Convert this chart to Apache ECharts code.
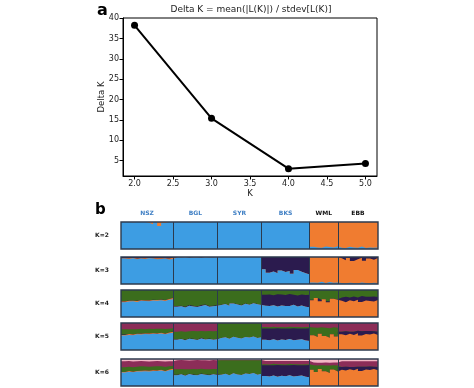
<!DOCTYPE html>
<html><head><meta charset="utf-8">
<script src="https://cdn.jsdelivr.net/npm/echarts@6/dist/echarts.min.js"></script>
<style>html,body{margin:0;padding:0;background:#fff}#c{width:474px;height:388px}</style>
</head><body><div id="c"></div>
<script>
// ---------- panel a ----------
const kValues = [2, 3, 4, 5];
const deltaK = [38.3, 15.4, 3.0, 4.3];
const xTicks = [2, 2.5, 3, 3.5, 4, 4.5, 5];
const yTicks = [5, 10, 15, 20, 25, 30, 35, 40];

// ---------- panel b ----------
const populations = ['NSZ', 'BGL', 'SYR', 'BKS', 'WML', 'EBB'];
const popSizes = [13, 11, 11, 12, 7, 10];
const popLabelColors = ['#3f7fc4', '#3f7fc4', '#3f7fc4', '#3f7fc4', '#111', '#111'];
const rowLabels = ['K=2', 'K=3', 'K=4', 'K=5', 'K=6'];
const clusterOrder = ['blue', 'orange', 'purple', 'green', 'maroon', 'pink'];
const clusterColors = { blue: '#3d9de3', orange: '#f07c30', purple: '#2b1b4e', green: '#3b6d1d', maroon: '#8c2d58', pink: '#f3b7c5' };

// K=2 (NSZ | BGL | SYR | BKS | WML | EBB)
const k2_blue = [100,100,99,100,100,100,97,92,100,85,96,100,99, 100,100,100,99,100,100,100,100,99,100,100, 100,100,100,100,100,100,100,100,100,100,100, 100,100,100,100,100,100,100,100,100,100,100,100, 8,6,5,9,7,6,10, 5,4,8,6,5,9,4,6,5,7];
const k2_orange = [0,0,1,0,0,0,3,8,0,15,4,0,1, 0,0,0,1,0,0,0,0,1,0,0, 0,0,0,0,0,0,0,0,0,0,0, 0,0,0,0,0,0,0,0,0,0,0,0, 92,94,95,91,93,94,90, 95,96,92,94,95,91,96,94,95,93];

// K=3
const k3_blue = [94,93,95,92,94,93,95,94,92,93,94,91,93, 98,98,99,97,98,98,97,99,98,98,99, 100,100,100,100,100,100,100,100,100,100,100, 55,42,46,40,50,44,48,38,52,45,40,35, 6,5,8,4,7,5,6, 4,3,5,4,3,6,4,3,5,4];
const k3_orange = [1,2,1,2,1,2,1,1,3,2,1,3,4, 0,0,0,0,0,0,0,0,0,0,0, 0,0,0,0,0,0,0,0,0,0,0, 0,0,0,0,0,0,0,0,0,0,0,0, 94,95,92,96,93,95,94, 91,85,91,81,89,91,82,91,85,92];
const k3_purple = [5,5,4,6,5,5,4,5,5,5,5,6,3, 2,2,1,3,2,2,3,1,2,2,1, 0,0,0,0,0,0,0,0,0,0,0, 45,58,54,60,50,56,52,62,48,55,60,65, 0,0,0,0,0,0,0, 5,12,4,15,8,3,14,6,10,4];

// K=4
const k4_blue = [55,57,58,56,60,59,58,61,60,62,59,64,66, 38,40,35,42,39,37,41,44,38,40,42, 44,48,42,50,46,43,49,45,51,47,44, 42,40,44,38,43,41,39,45,40,42,38,36, 0,0,0,0,0,0,0, 0,0,0,0,0,0,0,0,0,0];
const k4_orange = [2,3,2,3,2,2,3,2,3,2,3,3,4, 0,0,0,0,0,0,0,0,0,0,0, 0,0,0,0,0,0,0,0,0,0,0, 0,0,0,0,0,0,0,0,0,0,0,0, 62,70,58,66,55,68,64, 60,55,62,58,64,56,61,59,57,63];
const k4_purple = [1,1,0,1,1,0,1,1,0,1,1,0,1, 3,2,3,2,3,2,3,2,3,2,2, 1,1,1,1,1,1,1,1,1,1,1, 40,42,38,44,40,41,43,37,42,40,44,46, 2,0,5,0,3,0,2, 12,20,10,18,8,22,14,16,19,11];
const k4_green = [42,39,40,40,37,39,38,36,37,35,37,33,29, 59,58,62,56,58,61,56,54,59,58,56, 55,51,57,49,53,56,50,54,48,52,55, 18,16,20,15,17,19,14,18,21,16,19,17, 36,30,37,34,42,32,34, 28,25,28,24,28,22,25,25,24,26];

// K=5
const k5_blue = [54,56,55,58,57,59,58,60,59,61,58,62,64, 38,41,36,42,40,37,43,39,41,38,40, 44,47,42,49,45,43,48,46,50,44,47, 38,36,40,35,39,37,41,36,38,40,35,33, 0,0,0,0,0,0,0, 0,0,0,0,0,0,0,0,0,0];
const k5_orange = [2,3,2,2,3,2,3,2,2,3,2,3,4, 0,0,0,0,0,0,0,0,0,0,0, 0,0,0,0,0,0,0,0,0,0,0, 0,0,0,0,0,0,0,0,0,0,0,0, 55,48,60,52,45,58,50, 58,55,60,56,62,54,59,57,61,56];
const k5_purple = [1,0,1,0,1,0,1,0,1,0,1,0,1, 2,1,2,1,2,1,2,1,2,1,2, 0,0,0,0,0,0,0,0,0,0,0, 42,44,40,46,41,43,39,45,42,40,45,48, 0,0,0,0,0,0,0, 10,14,8,12,9,15,11,13,8,12];
const k5_green = [20,18,19,17,18,16,17,16,17,15,17,14,12, 28,27,30,26,28,31,25,29,27,30,28, 55,52,57,50,54,56,51,53,49,55,52, 5,4,6,3,5,4,6,4,5,4,5,4, 28,34,24,30,36,26,32, 0,0,0,0,0,0,0,0,0,0];
const k5_maroon = [23,23,23,23,21,23,21,22,21,21,22,21,19, 32,31,32,31,30,31,30,31,30,31,30, 1,1,1,1,1,1,1,1,1,1,1, 15,16,14,16,15,16,14,15,15,16,15,15, 17,18,16,18,19,16,18, 32,31,32,32,29,31,30,30,31,32];

// K=6
const k6_blue = [50,52,51,54,53,55,54,56,55,57,54,58,60, 40,43,38,45,41,39,44,42,40,43,41, 42,45,40,47,43,41,46,44,48,42,45, 37,35,39,34,38,36,40,35,37,39,34,32, 0,0,0,0,0,0,0, 0,0,0,0,0,0,0,0,0,0];
const k6_orange = [2,3,2,2,3,2,3,2,2,3,2,3,4, 0,0,0,0,0,0,0,0,0,0,0, 0,0,0,0,0,0,0,0,0,0,0, 0,0,0,0,0,0,0,0,0,0,0,0, 60,52,63,55,48,61,54, 60,57,62,58,64,56,61,59,63,58];
const k6_purple = [0,0,0,0,0,0,0,0,0,0,0,0,0, 2,1,2,1,2,1,2,1,2,1,2, 0,0,0,0,0,0,0,0,0,0,0, 40,42,38,44,39,41,37,43,40,38,43,46, 0,0,0,0,0,0,0, 10,14,8,12,7,15,10,13,8,12];
const k6_green = [17,16,17,15,16,15,15,14,15,13,15,12,11, 20,18,22,17,20,21,18,19,21,18,20, 53,50,55,48,52,54,49,51,47,53,50, 4,3,5,3,4,3,5,3,4,3,4,3, 17,24,14,21,28,16,22, 0,0,0,0,0,0,0,0,0,0];
const k6_maroon = [23,21,22,21,20,20,20,20,20,19,21,19,17, 33,33,33,32,32,34,31,33,32,33,32, 1,1,1,1,1,1,1,1,1,1,1, 12,13,11,12,12,13,11,12,12,13,12,12, 10,10,9,11,10,10,11, 22,21,22,22,21,21,21,20,21,22];
const k6_pink = [8,7,9,8,7,8,9,8,7,8,9,8,8, 5,4,5,6,5,4,5,5,6,4,5, 4,4,4,4,4,4,4,4,4,4,4, 7,7,7,7,7,7,7,7,7,7,7,7, 13,14,14,13,14,13,13, 8,8,8,8,8,8,8,8,8,8];

const rows = [
  { blue: k2_blue, orange: k2_orange },
  { blue: k3_blue, orange: k3_orange, purple: k3_purple },
  { blue: k4_blue, orange: k4_orange, purple: k4_purple, green: k4_green },
  { blue: k5_blue, orange: k5_orange, purple: k5_purple, green: k5_green, maroon: k5_maroon },
  { blue: k6_blue, orange: k6_orange, purple: k6_purple, green: k6_green, maroon: k6_maroon, pink: k6_pink }
];

// ---------- build ----------
const boundaries = [];
let acc = 0;
popSizes.forEach(s => { boundaries.push(acc); acc += s; });
boundaries.push(acc);
const nInd = acc;

const bLeft = 121, bWidth = 257, rowTops = [222, 257, 290, 323, 359], rowH = 27;
const borderCol = '#2c3a4d';

const grids = [], xAxes = [], yAxes = [], series = [];
rows.forEach((row, r) => {
  grids.push({ left: bLeft, top: rowTops[r], width: bWidth, height: rowH, show: true, borderColor: borderCol, borderWidth: 1.4, z: 10, backgroundColor: 'transparent' });
  xAxes.push({ gridIndex: r, type: 'value', min: 0, max: nInd, show: false });
  yAxes.push({ gridIndex: r, type: 'value', min: 0, max: 100, show: false });
  const keys = clusterOrder.filter(k => row[k]);
  const totals = row.blue.map((_, j) => keys.reduce((s, k) => s + row[k][j], 0));
  // cumulative share (membership of this cluster and all below it), in percent
  const cum = keys.map((k, ki) => row.blue.map((_, j) => keys.slice(0, ki + 1).reduce((s, kk) => s + row[kk][j], 0) / totals[j] * 100));
  // draw the highest cumulative first so lower clusters paint over it (no seams)
  for (let ki = keys.length - 1; ki >= 0; ki--) {
    const c = clusterColors[keys[ki]];
    const pts = cum[ki].map((v, j) => [j, v]);
    pts.push([nInd, cum[ki][nInd - 1]]);
    const s = { type: 'line', xAxisIndex: r, yAxisIndex: r, name: 'K' + (r + 2) + '-' + keys[ki],
      step: 'end', data: pts, showSymbol: false, symbol: 'none', silent: true, animation: false, z: 2,
      lineStyle: { width: 0, opacity: 0 }, areaStyle: { color: c, opacity: 1, origin: 'start' } };
    if (ki === 0) {
      s.markLine = { silent: true, symbol: 'none', animation: false, label: { show: false },
        lineStyle: { color: borderCol, width: 1, type: 'solid' },
        data: boundaries.slice(1, -1).map(b => ({ xAxis: b })) };
    }
    series.push(s);
  }
});

// panel a grid
const ai = rows.length;
grids.push({ left: 123, top: 18, width: 254, height: 158, show: true, borderColor: '#000', borderWidth: 1, backgroundColor: 'transparent' });
const tickFont = { fontSize: 8, color: '#222', fontFamily: 'DejaVu Sans' };
xAxes.push({ gridIndex: ai, type: 'value', min: 1.85, max: 5.15,
  name: 'K', nameLocation: 'middle', nameGap: 13, nameMoveOverlap: false, nameTextStyle: { fontSize: 8.5, color: '#222', fontFamily: 'DejaVu Sans' },
  axisLine: { show: true, lineStyle: { color: '#000', width: 1 } },
  axisTick: { show: true, customValues: xTicks, length: 3.5, lineStyle: { color: '#000', width: 1 } },
  axisLabel: { show: true, customValues: xTicks, formatter: v => Number(v).toFixed(1), margin: 4, ...tickFont },
  splitLine: { show: false } });
yAxes.push({ gridIndex: ai, type: 'value', min: 1.2, max: 40.1,
  name: 'Delta K', nameLocation: 'middle', nameGap: 17, nameRotate: 90, nameMoveOverlap: false, nameTextStyle: { fontSize: 8.5, color: '#222', fontFamily: 'DejaVu Sans' },
  axisLine: { show: true, lineStyle: { color: '#000', width: 1 } },
  axisTick: { show: true, customValues: yTicks, length: 3.5, lineStyle: { color: '#000', width: 1 } },
  axisLabel: { show: true, customValues: yTicks, formatter: v => String(Math.round(v)), margin: 4, ...tickFont },
  splitLine: { show: false } });
series.push({ type: 'line', xAxisIndex: ai, yAxisIndex: ai, data: kValues.map((k, i) => [k, deltaK[i]]),
  symbol: 'circle', symbolSize: 7, showSymbol: true, animation: false,
  lineStyle: { color: '#000', width: 2 }, itemStyle: { color: '#000' } });

// texts
const graphic = [
  { type: 'text', left: 97, top: 3, style: { text: 'a', font: 'bold 16px "DejaVu Sans"', fill: '#000' } },
  { type: 'text', x: 251, y: 10, style: { text: 'Delta K = mean(|L(K)|) / stdev[L(K)]', font: '9px "DejaVu Sans"', fill: '#222', align: 'center', verticalAlign: 'middle' } },
  { type: 'text', left: 95, top: 203, style: { text: 'b', font: 'bold 15px "DejaVu Sans"', fill: '#000' } }
];
populations.forEach((p, i) => {
  const cx = bLeft + (boundaries[i] + popSizes[i] / 2) * bWidth / nInd;
  graphic.push({ type: 'text', x: cx, y: 213, style: { text: p, font: 'bold 6px "DejaVu Sans"', fill: popLabelColors[i], align: 'center', verticalAlign: 'middle' } });
});
rowLabels.forEach((t, r) => {
  graphic.push({ type: 'text', x: 102, y: rowTops[r] + rowH / 2, style: { text: t, font: 'bold 6px "DejaVu Sans"', fill: '#222', align: 'center', verticalAlign: 'middle' } });
});

const chart = echarts.init(document.getElementById('c'), null, { renderer: 'canvas' });
chart.setOption({ backgroundColor: '#fff', animation: false, grid: grids, xAxis: xAxes, yAxis: yAxes, series: series, graphic: graphic });
</script>
</body></html>
